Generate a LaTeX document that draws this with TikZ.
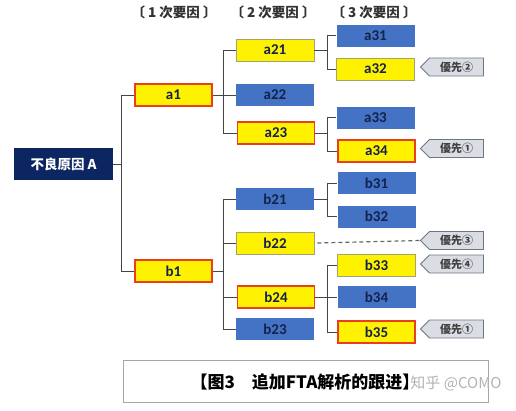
\documentclass[tikz,border=0pt]{standalone}
\usepackage{fontspec}
\setmainfont{Carlito}
\newfontfamily\cjk{Noto Sans CJK SC}
\usepackage{tikz}
\usetikzlibrary{shapes.symbols}
\definecolor{rootblue}{HTML}{0B2660}
\definecolor{boxblue}{HTML}{4472C4}
\definecolor{textnavy}{HTML}{13234A}
\definecolor{hotred}{HTML}{E8401C}
\definecolor{plainedge}{HTML}{A3A36E}
\definecolor{tagfill}{HTML}{DADDE3}
\definecolor{tagedge}{HTML}{6F7682}
\definecolor{wirecol}{HTML}{454545}

\begin{document}
\begin{tikzpicture}[x=1pt,y=-1pt,
		box/.style={minimum width=78pt, minimum height=22pt, inner sep=0pt, font=\bfseries\fontsize{15}{15}\selectfont, text=textnavy},
		cold/.style={box, fill=boxblue},
		warm/.style={box, fill=yellow, draw=plainedge, line width=0.8pt},
		hot/.style={box, fill=yellow, draw=hotred, line width=1.8pt, minimum width=77pt},
		tag/.style={signal, signal to=west, draw=tagedge, fill=tagfill, line width=0.9pt, minimum width=63pt, minimum height=18pt, inner sep=0pt, font=\cjk\bfseries\fontsize{11}{11}\selectfont, text=black!75},
		wire/.style={draw=wirecol, line width=0.9pt},
		head/.style={font=\cjk\bfseries\fontsize{13.5}{13.5}\selectfont, text=black!80}]
	\useasboundingbox (0,0) rectangle (516,410);
	% column heads
	\node[head] (h1) at (174,12) {〔 1 次要因 〕};
	\node[head] (h2) at (273,12) {〔 2 次要因 〕};
	\node[head] (h3) at (374,12) {〔 3 次要因 〕};
	% top event
	\node[fill=rootblue, text=white, minimum width=99pt, minimum height=32pt, inner sep=0pt, font=\cjk\bfseries\fontsize{13.5}{13.5}\selectfont] (root) at (63.5,164) {不良原因 A};
	% 1st level
	\node[hot] (a1) at (173.5,95) {a1};
	\node[hot] (b1) at (173.5,271) {b1};
	% 2nd level
	\node[warm] (a21) at (275,50) {a21};
	\node[cold] (a22) at (275,95) {a22};
	\node[hot] (a23) at (276,133) {a23};
	\node[cold] (b21) at (275,199) {b21};
	\node[warm] (b22) at (275,243) {b22};
	\node[hot] (b24) at (276,297) {b24};
	\node[cold] (b23) at (275,329) {b23};
	% 3rd level
	\node[cold] (a31) at (375.5,35.5) {a31};
	\node[warm] (a32) at (375.5,69) {a32};
	\node[cold] (a33) at (375.5,117.5) {a33};
	\node[hot] (a34) at (376.5,151) {a34};
	\node[cold] (b31) at (376.5,183) {b31};
	\node[cold] (b32) at (376.5,216.5) {b32};
	\node[warm] (b33) at (376.5,265.5) {b33};
	\node[cold] (b34) at (376.5,297) {b34};
	\node[hot] (b35) at (376.5,332) {b35};
	% priorities
	\node[tag] (p1) at (456.5,67) {優先②};
	\node[tag] (p2) at (456.5,148.5) {優先①};
	\node[tag] (p3) at (456.5,240.5) {優先③};
	\node[tag] (p4) at (456.5,264) {優先④};
	\node[tag] (p5) at (456.5,329) {優先①};
	% connectors
	\draw[wire] (root.east) -- ++(8,0) coordinate (s0) (s0) |- (a1.west) (s0) |- (b1.west);
	\draw[wire] (a1.east) -- ++(11,0) coordinate (sa) (sa) |- (a21.west) (sa) -- (a22.west) (sa) |- (a23.west);
	\draw[wire] (b1.east) -- ++(11,0) coordinate (sb) (sb) |- (b21.west) (sb) |- (b22.west) (sb) |- (b24.west) (sb) |- (b23.west);
	\draw[wire] (a21.east) -- ++(13,0) coordinate (sa2) (sa2) |- (a31.west) (sa2) |- (a32.west);
	\draw[wire] (a23.east) -- ++(12,0) coordinate (sa3) (sa3) |- (a33.west) (sa3) |- (a34.west);
	\draw[wire] (b21.east) -- ++(13,0) coordinate (sb2) (sb2) |- (b31.west) (sb2) |- (b32.west);
	\draw[wire] (b24.east) -- ++(12,0) coordinate (sb4) (sb4) |- (b33.west) (sb4) -- (b34.west) (sb4) |- (b35.west);
	\draw[draw=black!60, line width=1.2pt, dash pattern=on 4pt off 3pt] (b22.east) ++(3,0) -- (p3.west);
	% caption
	\node[draw=black!35, line width=0.8pt, minimum width=365pt, minimum height=42pt] (cap) at (305.5,381) {};
	\node[font=\cjk\bfseries\fontsize{17}{17}\selectfont] (captext) at (305,382) {【图3\quad 追加FTA解析的跟进】};
	\node[font=\cjk\fontsize{15}{15}\selectfont, text=black!30] (mark) at (456,383) {知乎 @COMO};
\end{tikzpicture}
\end{document}
